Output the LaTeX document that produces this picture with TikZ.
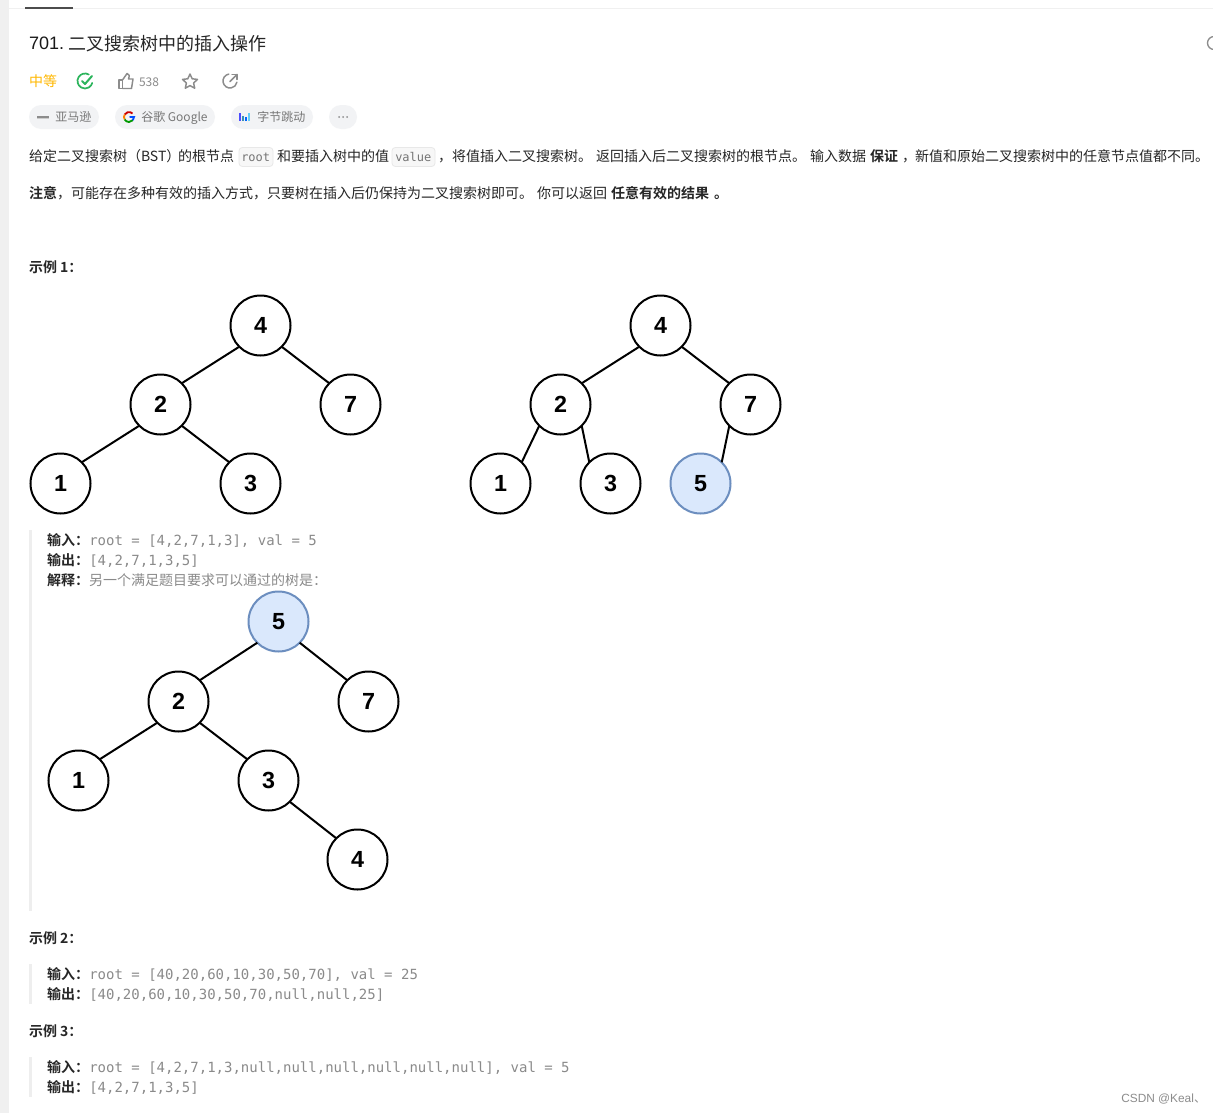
\documentclass[tikz,border=0pt]{standalone}
\usepackage{fontspec}
\setmainfont{Noto Sans CJK SC}[BoldFont={Noto Sans CJK SC Bold}]
\newfontfamily\monof{DejaVu Sans Mono}
\newfontfamily\arialf{Liberation Sans}
\definecolor{ink}{HTML}{262626}
\definecolor{graytx}{HTML}{8A8A8A}
\definecolor{chipbg}{HTML}{F2F3F5}
\definecolor{barc}{HTML}{EEEEEE}
\definecolor{iconc}{HTML}{8C8C8C}
\definecolor{nodeblue}{HTML}{DAE8FC}
\definecolor{edgeblue}{HTML}{6C8EBF}
\definecolor{okgreen}{HTML}{2DB55D}
\definecolor{levelc}{HTML}{FFB800}
\tikzset{
  tx/.style={anchor=base west,inner sep=0pt,outer sep=0pt,text=ink,font=\fontsize{10.5}{12}\selectfont},
  bd/.style={tx,font=\fontsize{10.5}{12}\selectfont\bfseries},
  gtx/.style={tx,text=graytx},
  mono/.style={anchor=base west,inner sep=0pt,text=graytx,font=\fontsize{10.5}{12}\selectfont\monof},
  chiptx/.style={anchor=base west,inner sep=0pt,text=iconc!85!black,font=\fontsize{9}{12}\selectfont},
  codetx/.style={anchor=base west,inner sep=0pt,text=graytx!85!black,font=\fontsize{9}{12}\selectfont\monof},
  chip/.style={fill=chipbg,rounded corners=9pt},
  codechip/.style={fill=black!3,draw=black!9,line width=.6pt,rounded corners=2.5pt},
  bar/.style={fill=barc},
  icon/.style={draw=iconc,line width=1.1pt,line join=round,line cap=round},
  tn/.style={circle,draw=black,fill=white,line width=1.5pt,minimum size=45pt,inner sep=0pt,outer sep=0pt,
    text=black,font=\fontsize{17.5}{20}\selectfont\arialf\bfseries},
  new/.style={tn,fill=nodeblue,draw=edgeblue},
  ed/.style={draw=black,line width=1.5pt},
}
\begin{document}
\begin{tikzpicture}[x=0.75pt,y=-0.75pt]
\useasboundingbox (0,0) rectangle (1213,1113);
\fill[white] (0,0) rectangle (1213,1113);
% page chrome
\fill[black!6] (0,0) rectangle (8.5,1113);
\fill[black!6] (8.5,8) rectangle (1213,9);
\fill[black!70] (25,7) rectangle (73,9);
% title
\node[tx,font=\fontsize{13.5}{16}\selectfont\arialf,text=black!90] (titlenum) at (29,50) {701.};
\node[tx,font=\fontsize{13.5}{16}\selectfont,text=black!85] (title) at (68,51) {二叉搜索树中的插入操作};
\draw[icon,line width=1pt] (1214,43) circle (6.5);
% meta row
\node[tx,text=levelc] (level) at (29,86) {中等};
\draw[okgreen,line width=1.3pt,line cap=round] (88.75,74.5) arc (-60:-345:7.5);
\draw[okgreen,line width=1.5pt,line cap=round,line join=round] (82,81) -- (85,84) -- (92,76);
\draw[icon] (119,80) rectangle (122.5,88.5);
\draw[icon] (122.5,80) -- (126,75) -- (127,73.5) .. controls (129.5,73.5) and (129.5,76) .. (128.5,79) -- (133,79) -- (131.5,88.5) -- (122.5,88.5);
\node[tx,text=iconc,font=\fontsize{9}{11}\selectfont] (likes) at (139,86) {538};
\draw[icon] (190,74) -- (192.2,78.8) -- (197.5,79.4) -- (193.6,83) -- (194.7,88.2) -- (190,85.6) -- (185.3,88.2) -- (186.4,83) -- (182.5,79.4) -- (187.8,78.8) -- cycle;
\draw[icon] (228.8,74.1) arc (-100:-350:7);
\draw[icon] (230,81.5) -- (237,74.5);
\draw[icon] (232,74.5) -- (237,74.5) -- (237,79.5);
% company chips
\fill[chip] (29,105) rectangle (99,129);
\fill[chip] (115,105) rectangle (215,129);
\fill[chip] (231,105) rectangle (313,129);
\fill[chip] (329,105) rectangle (357,129);
\fill[black!45] (37,116) rectangle (49,118);
\fill[black!20] (37,118) rectangle (49,119);
\node[chiptx] (c1) at (55,122) {亚马逊};
\draw[line width=1.4pt,red!80!black] (132.5,113.5) arc (-45:-150:5);
\draw[line width=1.4pt,orange] (124.67,114.5) arc (-150:-210:5);
\draw[line width=1.4pt,green!60!black] (124.67,119.5) arc (-210:-320:5);
\draw[line width=1.4pt,blue!70!cyan] (132.83,120.2) arc (-320:-360:5) -- (129.5,117);
\node[chiptx] (c2) at (141,122) {谷歌 Google};
\fill[blue!70] (239,113) rectangle (241,121);
\fill[cyan!70!black] (242,116) rectangle (244,121);
\fill[blue!60!cyan] (245,117) rectangle (247,121);
\fill[cyan!60] (248,113) rectangle (250,121);
\node[chiptx] (c3) at (257,122) {字节跳动};
\fill[iconc] (339,117) circle (1) (343,117) circle (1) (347,117) circle (1);
% paragraph 1
\node[tx] (p1a) at (29,161) {给定二叉搜索树（BST）};
\node[tx] (p1a2) at (178,161) {的根节点};
\filldraw[codechip] (239,147.5) rectangle (273,166.5);
\node[codetx] (root) at (241,161) {root};
\node[tx] (p1b) at (277,161) {和要插入树中的值};
\filldraw[codechip] (392,147.5) rectangle (435,166.5);
\node[codetx] (value) at (395,161) {value};
\node[tx] (p1c) at (438,161) {，将值插入二叉搜索树。};
\node[tx] (p1d) at (596,161) {返回插入后二叉搜索树的根节点。};
\node[tx] (p1e) at (810,161) {输入数据};
\node[bd] (p1f) at (870,161) {保证};
\node[tx] (p1g) at (902,161) {，};
\node[tx] (p1h) at (915,161) {新值和原始二叉搜索树中的任意节点值都不同。};
% paragraph 2
\node[bd] (p2a) at (29,198) {注意};
\node[tx] (p2b) at (57,198) {，可能存在多种有效的插入方式，只要树在插入后仍保持为二叉搜索树即可。};
\node[tx] (p2c) at (537,198) {你可以返回};
\node[bd] (p2d) at (611,198) {任意有效的结果};
\node[bd] (p2e) at (714,198) {。};
% example 1
\node[bd] (ex1) at (29,272) {示例 1：};
\begin{scope}[shift={(0.5,0.5)}]
\node[tn] (a4) at (260,325) {4};
\node[tn] (a2) at (160,404) {2};
\node[tn] (a7) at (350,404) {7};
\node[tn] (a1) at (60,483) {1};
\node[tn] (a3) at (250,483) {3};
\draw[ed] (a4.south west)--(a2.north east) (a4.south east)--(a7.north west)
          (a2.south west)--(a1.north east) (a2.south east)--(a3.north west);
\node[tn] (b4) at (660,325) {4};
\node[tn] (b2) at (560,404) {2};
\node[tn] (b7) at (750,404) {7};
\node[tn] (b1) at (500,483) {1};
\node[tn] (b3) at (610,483) {3};
\node[new] (b5) at (700,483) {5};
\draw[ed] (b4.south west)--(b2.north east) (b4.south east)--(b7.north west)
          (b2.south west)--(b1.north east) (b2.south east)--(b3.north west)
          (b7.south west)--(b5.north east);
\end{scope}
\fill[bar] (29,530) rectangle (32,911);
\node[bd] (i1) at (47,545) {输入：};
\node[mono] (i1v) at (89,545) {root = [4,2,7,1,3], val = 5};
\node[bd] (o1) at (47,565) {输出：};
\node[mono] (o1v) at (89,565) {[4,2,7,1,3,5]};
\node[bd] (e1) at (47,585) {解释：};
\node[gtx] (e1v) at (89,585) {另一个满足题目要求可以通过的树是：};
\begin{scope}[shift={(0.5,0.5)}]
\node[new] (c5) at (278,621) {5};
\node[tn] (c2n) at (178,701) {2};
\node[tn] (c7) at (368,701) {7};
\node[tn] (c1n) at (78,780) {1};
\node[tn] (c3n) at (268,780) {3};
\node[tn] (c4) at (357,859) {4};
\draw[ed] (c5.south west)--(c2n.north east) (c5.south east)--(c7.north west)
          (c2n.south west)--(c1n.north east) (c2n.south east)--(c3n.north west)
          (c3n.south east)--(c4.north west);
\end{scope}
% example 2
\node[bd] (ex2) at (29,943) {示例 2：};
\fill[bar] (29,964) rectangle (32,1004);
\node[bd] (i2) at (47,979) {输入：};
\node[mono] (i2v) at (89,979) {root = [40,20,60,10,30,50,70], val = 25};
\node[bd] (o2) at (47,999) {输出：};
\node[mono] (o2v) at (89,999) {[40,20,60,10,30,50,70,null,null,25]};
% example 3
\node[bd] (ex3) at (29,1036) {示例 3：};
\fill[bar] (29,1057) rectangle (32,1097);
\node[bd] (i3) at (47,1072) {输入：};
\node[mono] (i3v) at (89,1072) {root = [4,2,7,1,3,null,null,null,null,null,null], val = 5};
\node[bd] (o3) at (47,1092) {输出：};
\node[mono] (o3v) at (89,1092) {[4,2,7,1,3,5]};
% watermark
\node[anchor=base west,inner sep=0pt,text=black!45,font=\fontsize{8.9}{11}\selectfont] (wm) at (1121,1102) {{\arialf CSDN @Keal}、};
\end{tikzpicture}
\end{document}
